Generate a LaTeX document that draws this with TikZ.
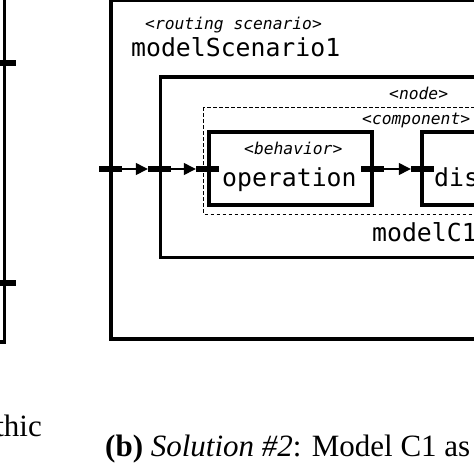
\documentclass[tikz,border=0pt]{standalone}
\usepackage{fontspec}
\setmainfont{Liberation Serif}
\setmonofont{DejaVu Sans Mono}
\usetikzlibrary{arrows.meta}
\tikzset{
    box/.style = {line width=3.5pt,draw=black},
    dbox/.style = {line width=1pt,draw=black,dash pattern=on 3.5pt off 2.5pt},
    port/.style = {rectangle,fill=black,inner sep=0pt,minimum width=23pt,minimum height=6.5pt},
    flow/.style = {-{Triangle[length=12pt,width=12pt]},line width=1.3pt},
    stereo/.style = {anchor=base west,inner sep=0pt,font=\ttfamily\itshape\fontsize{16.3}{18}\selectfont},
    mname/.style = {anchor=base west,inner sep=0pt,font=\ttfamily\fontsize{24.8}{28}\selectfont},
    capt/.style = {inner sep=0pt,font=\fontsize{31}{36}\selectfont}
}
\begin{document}
\begin{tikzpicture}[x=1pt,y=-1pt]
    \useasboundingbox (0,0) rectangle (474,474);
    \clip (0,0) rectangle (474,474);

    % (a), cut off at the left
    \draw[box] (-40,-10) -- (4.5,-10) -- (4.5,342) -- (-40,342);
    \node[port] (a1) at (4.5,63) {};
    \node[port] (a2) at (4.5,283) {};
    \node[capt,anchor=base east] (athic) at (42,436) {thic};

    % (b) boxes
    \draw[box] (111,0.5) rectangle (520,339);    % routing scenario
    \draw[box] (160.5,77) rectangle (520,257.5); % node
    \draw[dbox] (203.5,107) rectangle (520,214); % component
    \draw[box] (209,132) rectangle (372,205);    % behavior
    \draw[box] (422,132) rectangle (520,205);

    % labels
    \node[stereo] (lscen) at (145,29) {<routing scenario>};
    \node[mname] (nscen) at (131,56) {modelScenario1};
    \node[stereo] (lnode) at (389,99) {<node>};
    \node[stereo] (lcomp) at (362,124) {<component>};
    \node[stereo] (lbeh) at (244,154) {<behavior>};
    \node[mname] (nop) at (222,186) {operation};
    \node[mname] (ndis) at (434,186) {dis};
    \node[mname] (nc1) at (372,241) {modelC1};

    % ports and flow
    \node[port] (p1) at (110.5,169) {};
    \node[port] (p2) at (159.5,169) {};
    \node[port] (p3) at (207.5,169) {};
    \node[port] (p4) at (372.5,169) {};
    \node[port] (p5) at (422.5,169) {};
    \draw[flow] (p1) -- (p2);
    \draw[flow] (p2) -- (p3);
    \draw[flow] (p4) -- (p5);

    \node[capt,anchor=base west] (bcap) at (105,456) {\textbf{(b)} \textit{Solution \#2}: Model C1 as};
\end{tikzpicture}
\end{document}
